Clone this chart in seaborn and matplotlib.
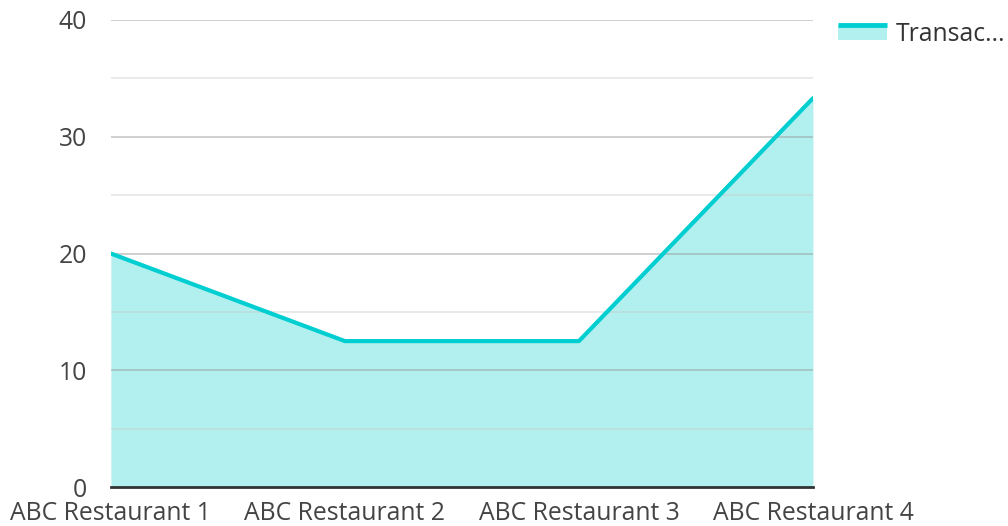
import numpy as np
import pandas as pd
import matplotlib
matplotlib.use("Agg")
import matplotlib.pyplot as plt
import seaborn as sns
from matplotlib.lines import Line2D
from matplotlib.patches import Rectangle
from matplotlib.legend_handler import HandlerBase

# datos
restaurants = ["ABC Restaurant 1", "ABC Restaurant 2", "ABC Restaurant 3", "ABC Restaurant 4"]
transactions = [20.0, 12.5, 12.5, 33.3]
series_name = "Transac..."

LINE_COLOR = "#00CED1"
FILL_COLOR = "#b2f0f0"
FS = 17.8

sns.set_theme(style="white")
plt.rcParams["font.family"] = ["Open Sans", "DejaVu Sans"]

df = pd.DataFrame({"restaurant": restaurants, "value": transactions})
df["pos"] = np.arange(len(df))


# swatch de leyenda: área con la línea en el borde superior
class AreaHandler(HandlerBase):
    def create_artists(self, legend, orig_handle, xdescent, ydescent, width, height, fontsize, trans):
        top = height * 0.95
        bottom = height * 0.05
        rect = Rectangle((-xdescent, bottom - ydescent), width, top - bottom,
                         facecolor=FILL_COLOR, edgecolor="none", transform=trans)
        line = Line2D([-xdescent, -xdescent + width], [top - ydescent, top - ydescent],
                      color=LINE_COLOR, lw=3.5, solid_capstyle="butt", transform=trans)
        return [rect, line]


fig = plt.figure(figsize=(10.08, 5.26), dpi=100)
ax = fig.add_axes([0.110, 0.074, 0.6965, 0.888])

ax.fill_between(df["pos"], df["value"], 0, color=FILL_COLOR, lw=0, zorder=1)
sns.lineplot(data=df, x="pos", y="value", color=LINE_COLOR, lw=3, ax=ax, zorder=3)

ax.set_xlim(0, len(df) - 1)
ax.set_ylim(0, 40)
ax.set_yticks([0, 10, 20, 30, 40])
ax.set_xticks(df["pos"])
ax.set_xticklabels(restaurants)

for y in [10, 20, 30, 40]:
    ax.axhline(y, color="#9a9a9a", lw=1.2, alpha=0.55, zorder=2)
for y in [5, 15, 25, 35]:
    ax.axhline(y, color="#c8c8c8", lw=1.2, alpha=0.45, zorder=2)

for s in ["top", "right", "left"]:
    ax.spines[s].set_visible(False)
ax.spines["bottom"].set_color("#333333")
ax.spines["bottom"].set_linewidth(2)
ax.spines["bottom"].set_zorder(4)

ax.tick_params(axis="both", length=0, labelsize=FS, colors="#444444")
ax.tick_params(axis="y", pad=17)
ax.tick_params(axis="x", pad=10)
ax.set_xlabel("")
ax.set_ylabel("")

fig.legend(["area"], [series_name], handler_map={str: AreaHandler()},
           loc="upper left", bbox_to_anchor=(0.809, 1.0),
           frameon=False, fontsize=FS, handlelength=2.0, handleheight=0.65,
           handletextpad=0.36, labelcolor="#333333")

fig.savefig("out.png", dpi=100)
